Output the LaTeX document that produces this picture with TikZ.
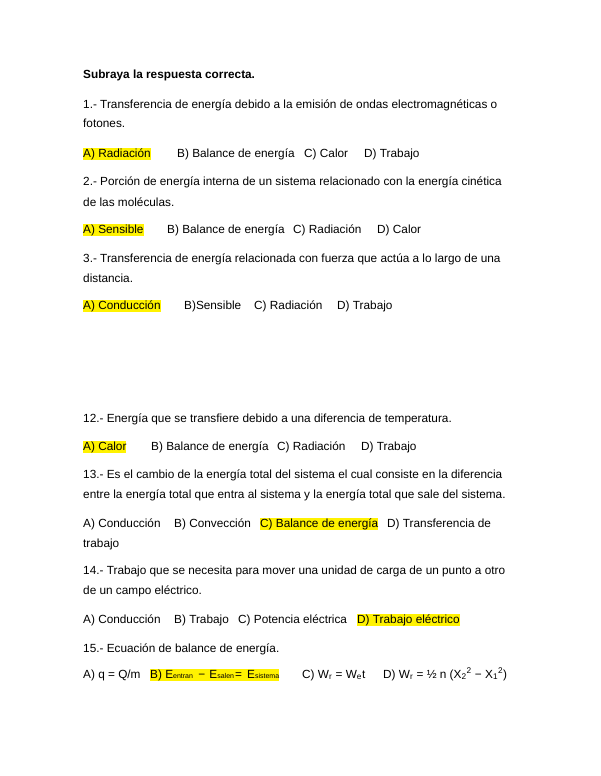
\documentclass[tikz,border=0pt]{standalone}
\usepackage{fontspec}
\setmainfont{Liberation Sans}
\newcommand{\smsub}[1]{{\fontsize{7}{8}\selectfont #1}}
\begin{document}
\begin{tikzpicture}[x=1pt,y=-1pt,
  txt/.style={anchor=base west,inner sep=0pt,font=\fontsize{11.8}{14}\selectfont},
  hl/.style={txt,fill=yellow,inner ysep=0.6pt}]
\useasboundingbox[fill=white] (0,0) rectangle (600,776);
\node[txt,font=\fontsize{11.8}{14}\selectfont\bfseries] (title) at (83,78) {Subraya la respuesta correcta.};
% 1
\node[txt] (q1a) at (83,108) {1.- Transferencia de energía debido a la emisión de ondas electromagnéticas o};
\node[txt] (q1b) at (83,127) {fotones.};
\node[hl] (a1a) at (83,157) {A) Radiación};
\node[txt] (a1b) at (177,157) {B) Balance de energía};
\node[txt] (a1c) at (304,157) {C) Calor};
\node[txt] (a1d) at (364,157) {D) Trabajo};
% 2
\node[txt] (q2a) at (83,185) {2.- Porción de energía interna de un sistema relacionado con la energía cinética};
\node[txt] (q2b) at (83,206) {de las moléculas.};
\node[hl] (a2a) at (83,233) {A) Sensible};
\node[txt] (a2b) at (167,233) {B) Balance de energía};
\node[txt] (a2c) at (293,233) {C) Radiación};
\node[txt] (a2d) at (377,233) {D) Calor};
% 3
\node[txt] (q3a) at (83,262) {3.- Transferencia de energía relacionada con fuerza que actúa a lo largo de una};
\node[txt] (q3b) at (83,282) {distancia.};
\node[hl] (a3a) at (83,309) {A) Conducción};
\node[txt] (a3b) at (184,309) {B)Sensible};
\node[txt] (a3c) at (254,309) {C) Radiación};
\node[txt] (a3d) at (337,309) {D) Trabajo};
% 12
\node[txt] (q12) at (83,422) {12.- Energía que se transfiere debido a una diferencia de temperatura.};
\node[hl] (a12a) at (83,450) {A) Calor};
\node[txt] (a12b) at (151,450) {B) Balance de energía};
\node[txt] (a12c) at (277,450) {C) Radiación};
\node[txt] (a12d) at (361,450) {D) Trabajo};
% 13
\node[txt] (q13a) at (83,478) {13.- Es el cambio de la energía total del sistema el cual consiste en la diferencia};
\node[txt] (q13b) at (83,498) {entre la energía total que entra al sistema y la energía total que sale del sistema.};
\node[txt] (a13a) at (83,527) {A) Conducción};
\node[txt] (a13b) at (174,527) {B) Convección};
\node[hl] (a13c) at (260,527) {C) Balance de energía};
\node[txt] (a13d) at (387,527) {D) Transferencia de};
\node[txt] (a13e) at (83,547) {trabajo};
% 14
\node[txt] (q14a) at (83,574) {14.- Trabajo que se necesita para mover una unidad de carga de un punto a otro};
\node[txt] (q14b) at (83,594) {de un campo eléctrico.};
\node[txt] (a14a) at (83,623) {A) Conducción};
\node[txt] (a14b) at (174,623) {B) Trabajo};
\node[txt] (a14c) at (238,623) {C) Potencia eléctrica};
\node[hl] (a14d) at (357,623) {D) Trabajo eléctrico};
% 15
\node[txt] (q15) at (83,652) {15.- Ecuación de balance de energía.};
\node[txt] (a15a) at (83,678) {A) q = Q/m};
\node[hl] (a15b) at (150,678) {B) E\smsub{entran}\hspace{2pt} − \hspace{1pt}E\smsub{salen}\hspace{1pt}= \hspace{2pt}E\smsub{sistema}};
\node[txt] (a15c) at (302,678) {C) W\textsubscript{r} = W\textsubscript{e}t};
\node[txt] (a15d) at (383,678) {D) W\textsubscript{r} = ½ n (X\textsubscript{2}\textsuperscript{2} − X\textsubscript{1}\textsuperscript{2})};
\end{tikzpicture}
\end{document}
